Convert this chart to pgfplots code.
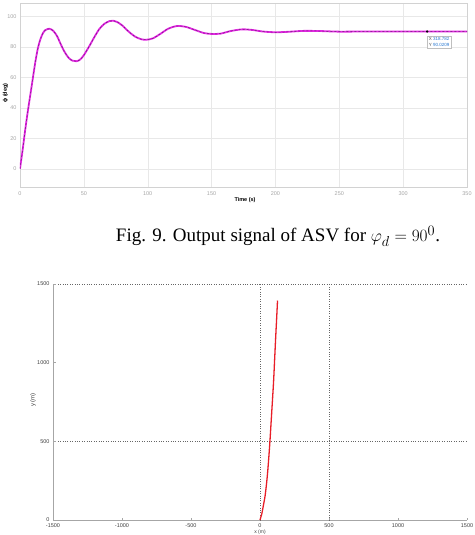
\documentclass[border=0pt]{standalone}
\usepackage{pgfplots}
\pgfplotsset{compat=1.18}
\usepackage{fontspec}
\setmainfont{Liberation Serif}
\setsansfont{Liberation Sans}

\definecolor{sig}{RGB}{225,40,225}
\definecolor{sigdark}{RGB}{110,30,120}
\definecolor{tipblue}{RGB}{40,120,210}
\definecolor{traj}{RGB}{232,30,40}

\begin{document}
\begin{tikzpicture}[x=1pt,y=1pt]
\useasboundingbox (0,0) rectangle (474,535);

% --- top: heading angle against time
\begin{axis}[
  at={(20pt,348pt)}, anchor=south west,
  scale only axis, width=447pt, height=184pt,
  xmin=0, xmax=350, ymin=-12, ymax=108.7,
  xtick={0,50,...,350}, ytick={0,20,...,100},
  grid=major, major grid style={gray!18, line width=0.4pt},
  axis line style={gray!35},
  tick style={draw=none},
  font=\sffamily,
  ticklabel style={font=\sffamily\fontsize{5.5}{6}\selectfont, text=gray!70},
  /pgf/number format/assume math mode=true,
  xlabel={\bfseries Time (s)}, ylabel={\bfseries ϕ (deg)},
  label style={font=\sffamily\fontsize{5.5}{6}\selectfont},
  xlabel style={at={(225pt,-14.5pt)}, anchor=base},
  ylabel style={at={(-14.5pt,94pt)}, anchor=center},
  xticklabel style={yshift=-1pt},
]
\addplot[sig, line width=1.8pt, smooth] coordinates {
  (0,0) (2,12) (4,25) (6,37) (8,48) (10,59) (12,70) (14,79) (16,85)
  (18,89) (20,91) (23,91.8) (26,90.5) (29,87) (32,81.5) (35,76.5)
  (38,72.8) (41,70.9) (44,70.5) (47,71.5) (50,74.5) (54,80) (58,86)
  (62,91.5) (66,95) (70,96.8) (73,97.1) (76,96.3) (80,94) (85,90)
  (90,86.7) (95,84.9) (99,84.6) (104,85.5) (110,88.5) (116,91.8)
  (123,93.6) (130,93) (137,91) (144,89) (150,88.4) (157,88.6)
  (165,90.3) (174,91.4) (182,91) (190,90) (200,89.5) (210,89.8)
  (222,90.4) (235,90.3) (250,89.9) (270,90) (300,90) (350,90)
};
\addplot[sigdark, line width=0.5pt, dash pattern=on 2pt off 2pt, smooth] coordinates {
  (0,0) (2,12) (4,25) (6,37) (8,48) (10,59) (12,70) (14,79) (16,85)
  (18,89) (20,91) (23,91.8) (26,90.5) (29,87) (32,81.5) (35,76.5)
  (38,72.8) (41,70.9) (44,70.5) (47,71.5) (50,74.5) (54,80) (58,86)
  (62,91.5) (66,95) (70,96.8) (73,97.1) (76,96.3) (80,94) (85,90)
  (90,86.7) (95,84.9) (99,84.6) (104,85.5) (110,88.5) (116,91.8)
  (123,93.6) (130,93) (137,91) (144,89) (150,88.4) (157,88.6)
  (165,90.3) (174,91.4) (182,91) (190,90) (200,89.5) (210,89.8)
  (222,90.4) (235,90.3) (250,89.9) (270,90) (300,90) (350,90)
};
% data tip
\addplot[only marks, mark=*, mark size=0.9pt, black] coordinates {(318.782,90)};
\node[anchor=north west, draw=gray!50, fill=white, inner sep=1.5pt,
  align=left, text=tipblue, font=\sffamily\fontsize{4.5}{5.5}\selectfont]
  at (axis cs:318.782,87) {\textcolor{black!70}{X} 318.782\\\textcolor{black!70}{Y} 90.0209};
\end{axis}

% caption
\node[anchor=base, font=\fontsize{19}{22}\selectfont] at (278pt,293pt)
  {Fig. 9. Output signal of ASV for $\varphi_d = 90^0$.};

% --- bottom: trajectory
\begin{axis}[
  at={(53pt,15pt)}, anchor=south west,
  scale only axis, width=414pt, height=236pt,
  xmin=-1500, xmax=1500, ymin=0, ymax=1500,
  xtick={-1500,-1000,...,1500}, ytick={0,500,1000,1500},
  axis x line*=bottom, axis y line*=left,
  axis line style={gray!70, line width=0.8pt, -},
  tick style={gray!70, line width=0.5pt}, major tick length=2.5pt,
  extra x ticks={0,500}, extra x tick labels={},
  extra y ticks={500,1500}, extra y tick labels={},
  extra tick style={grid=major, major grid style={black!60, dotted, line width=0.6pt}},
  ticklabel style={font=\sffamily\fontsize{5.5}{6}\selectfont, text=black!75},
  /pgf/number format/assume math mode=true,
  /pgf/number format/1000 sep={},
  xlabel={x (m)}, ylabel={y (m)},
  label style={font=\sffamily\fontsize{6}{7}\selectfont, text=black!75},
  xlabel style={at={(207pt,-13.2pt)}, anchor=base, font=\sffamily\fontsize{5}{6}\selectfont},
  ylabel style={at={(-20pt,120pt)}, anchor=center},
  xticklabel style={yshift=-0.5pt},
]
\addplot[traj, line width=1.3pt, smooth] coordinates {
  (0,0) (5,15) (14,43) (25,95) (36,148) (46,220) (55,300) (64,400)
  (72,500) (79,600) (86,700) (93,800) (99,890) (106,1020) (113,1150)
  (120,1270) (127,1395)
};
\end{axis}
\end{tikzpicture}
\end{document}
